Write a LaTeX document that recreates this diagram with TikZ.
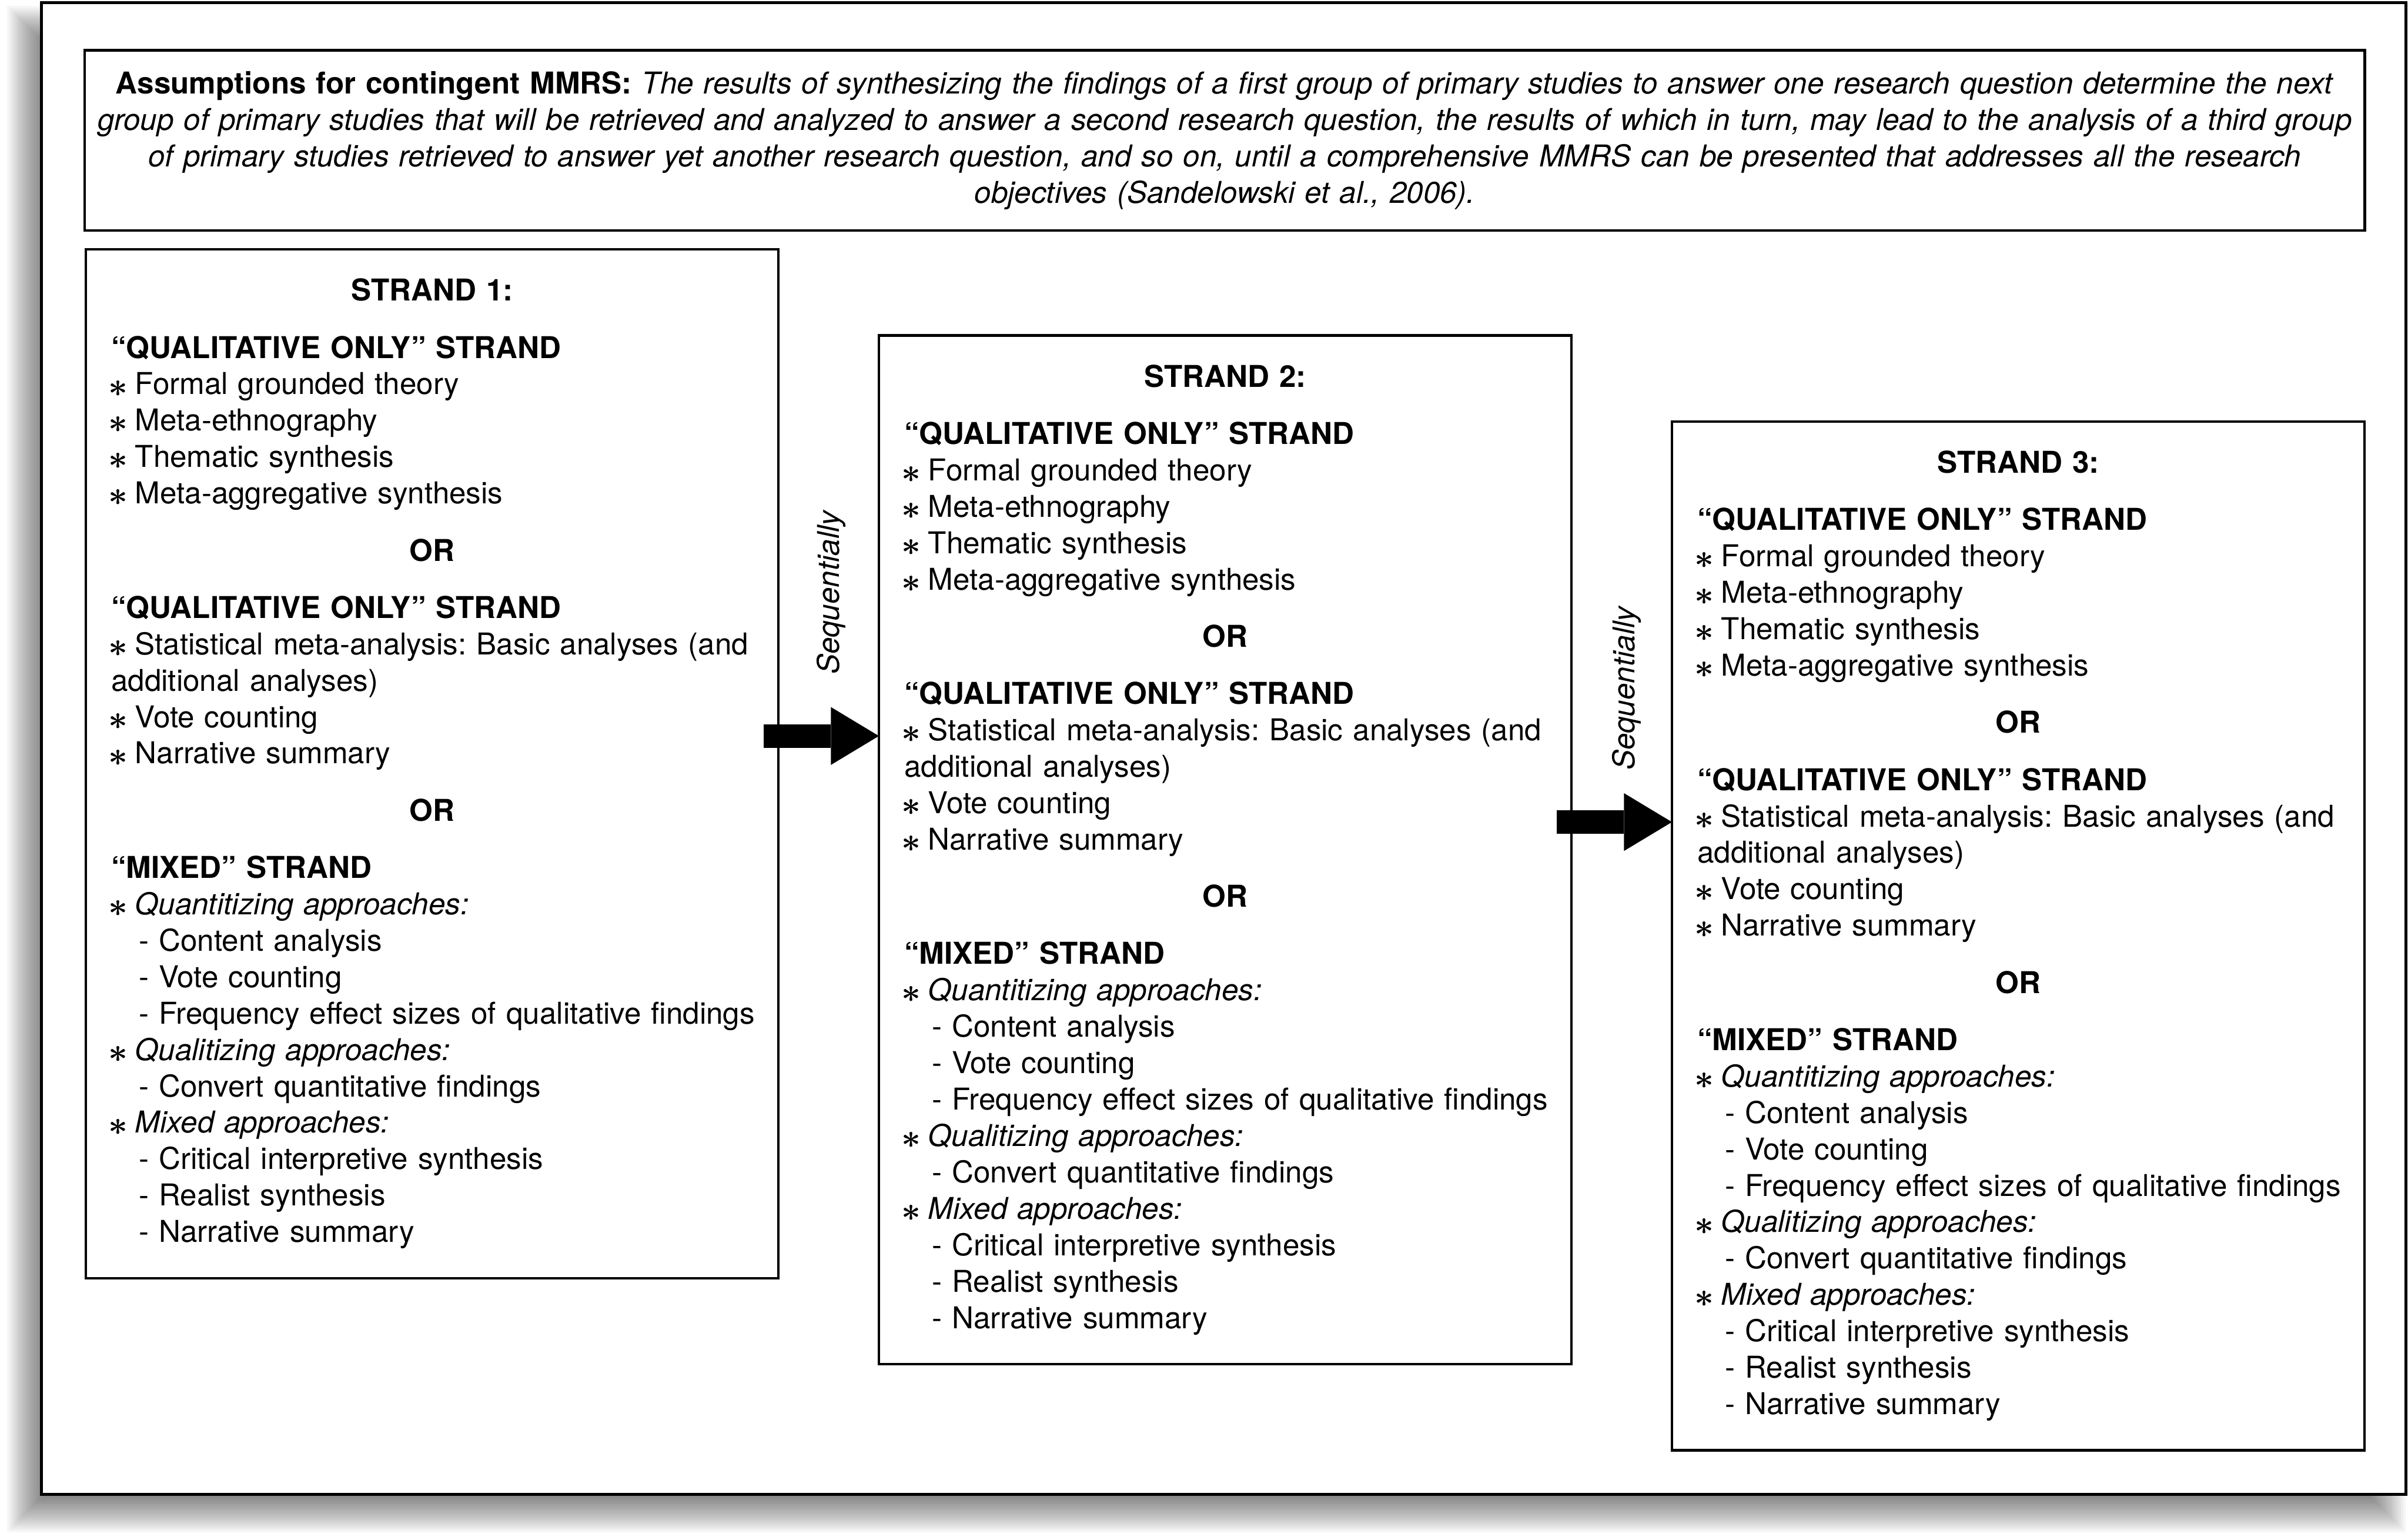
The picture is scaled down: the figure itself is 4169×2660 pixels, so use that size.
\documentclass[tikz,border=0pt]{standalone}
\usepackage{graphicx}
\usepackage{fontspec}
\setmainfont{TeX Gyre Heros}
\usetikzlibrary{arrows.meta}
\frenchspacing
\newcommand{\strfont}{\fontsize{14.8pt}{17.92pt}\selectfont\frenchspacing}
\newcommand{\strbul}{\makebox[0.46em][c]{\raisebox{-0.06em}{\scalebox{1.15}{\boldmath$\ast$}}}}
\newcommand{\strdash}{\hspace*{0.92em}- }
\newcommand{\strandbody}[1]{%
\makebox[11.1cm]{\textbf{STRAND #1:}}\\[0.36cm]
\textbf{“QUALITATIVE ONLY” STRAND}\\
\strbul{} Formal grounded theory\\
\strbul{} Meta-ethnography\\
\strbul{} Thematic synthesis\\
\strbul{} Meta-aggregative synthesis\\[0.36cm]
\makebox[11.1cm]{\textbf{OR}}\\[0.36cm]
\textbf{“QUALITATIVE ONLY” STRAND}\\
\mbox{\strbul{} Statistical meta-analysis: Basic analyses (and}\\
additional analyses)\\
\strbul{} Vote counting\\
\strbul{} Narrative summary\\[0.36cm]
\makebox[11.1cm]{\textbf{OR}}\\[0.36cm]
\textbf{“MIXED” STRAND}\\
\strbul{} \textit{Quantitizing approaches:}\\
\strdash Content analysis\\
\strdash Vote counting\\
\mbox{\strdash Frequency effect sizes of qualitative findings}\\
\strbul{} \textit{Qualitizing approaches:}\\
\strdash Convert quantitative findings\\
\strbul{} \textit{Mixed approaches:}\\
\strdash Critical interpretive synthesis\\
\strdash Realist synthesis\\
\strdash Narrative summary}
\begin{document}
\begin{tikzpicture}[x=0.01cm,y=-0.01cm,
  box/.style={draw, line width=0.045cm, fill=white, outer sep=0pt, rectangle},
  strandbox/.style={box, minimum width=11.98cm, minimum height=17.8cm,
    text width=11.1cm, inner xsep=0.44cm, inner ysep=0pt, align=left, font=\strfont},
  topbox/.style={box, minimum width=39.45cm, minimum height=3.12cm,
    text width=39.3cm, inner xsep=0.05cm, inner ysep=0pt, align=center, font=\strfont},
  bigarrow/.style={line width=0.41cm, line cap=butt,
    -{Triangle[length=0.83cm,width=1.0cm,line width=0pt]}},
  seqlabel/.style={rotate=90, anchor=base, font=\strfont\itshape, inner sep=0pt}]
\useasboundingbox (0,0) rectangle (4169,2660);
\fill[white] (0,0) rectangle (4169,2660);
% soft drop shadow
\foreach \d in {-30,-26,...,30}{
  \fill[black,opacity=0.035] ({42-(\d)},{40-(\d)}) rectangle ({4135+(\d)},{2622+(\d)});
}
% outer frame
\draw[line width=0.05cm, fill=white] (72,5) rectangle (4165,2587);
% assumptions box
\node[topbox] (top) at (2120.5,243) {%
\textbf{Assumptions for contingent MMRS:} \textit{The results of synthesizing the findings of a first group of primary studies to answer one research question determine the next}\\
\textit{group of primary studies that will be retrieved and analyzed to answer a second research question, the results of which in turn, may lead to the analysis of a third group}\\
\textit{of primary studies retrieved to answer yet another research question, and so on, until a comprehensive MMRS can be presented that addresses all the research}\\
\textit{objectives (Sandelowski et al., 2006).}};
% strands
\node[strandbox] (s1) at (748,1322) {\strandbody{1}};
\node[strandbox] (s2) at (2121,1471) {\strandbody{2}};
\node[strandbox] (s3) at (3494,1620) {\strandbody{3}};
% arrows
\coordinate (a1) at (0,1274);
\coordinate (a2) at (0,1423);
\draw[bigarrow] ([xshift=-0.25cm]s1.east |- a1) -- (s2.west |- a1);
\draw[bigarrow] ([xshift=-0.25cm]s2.east |- a2) -- (s3.west |- a2);
% labels
\node[seqlabel] (q1) at (1453,1026) {Sequentially};
\node[seqlabel] (q2) at (2830,1192) {Sequentially};
\end{tikzpicture}
\end{document}
